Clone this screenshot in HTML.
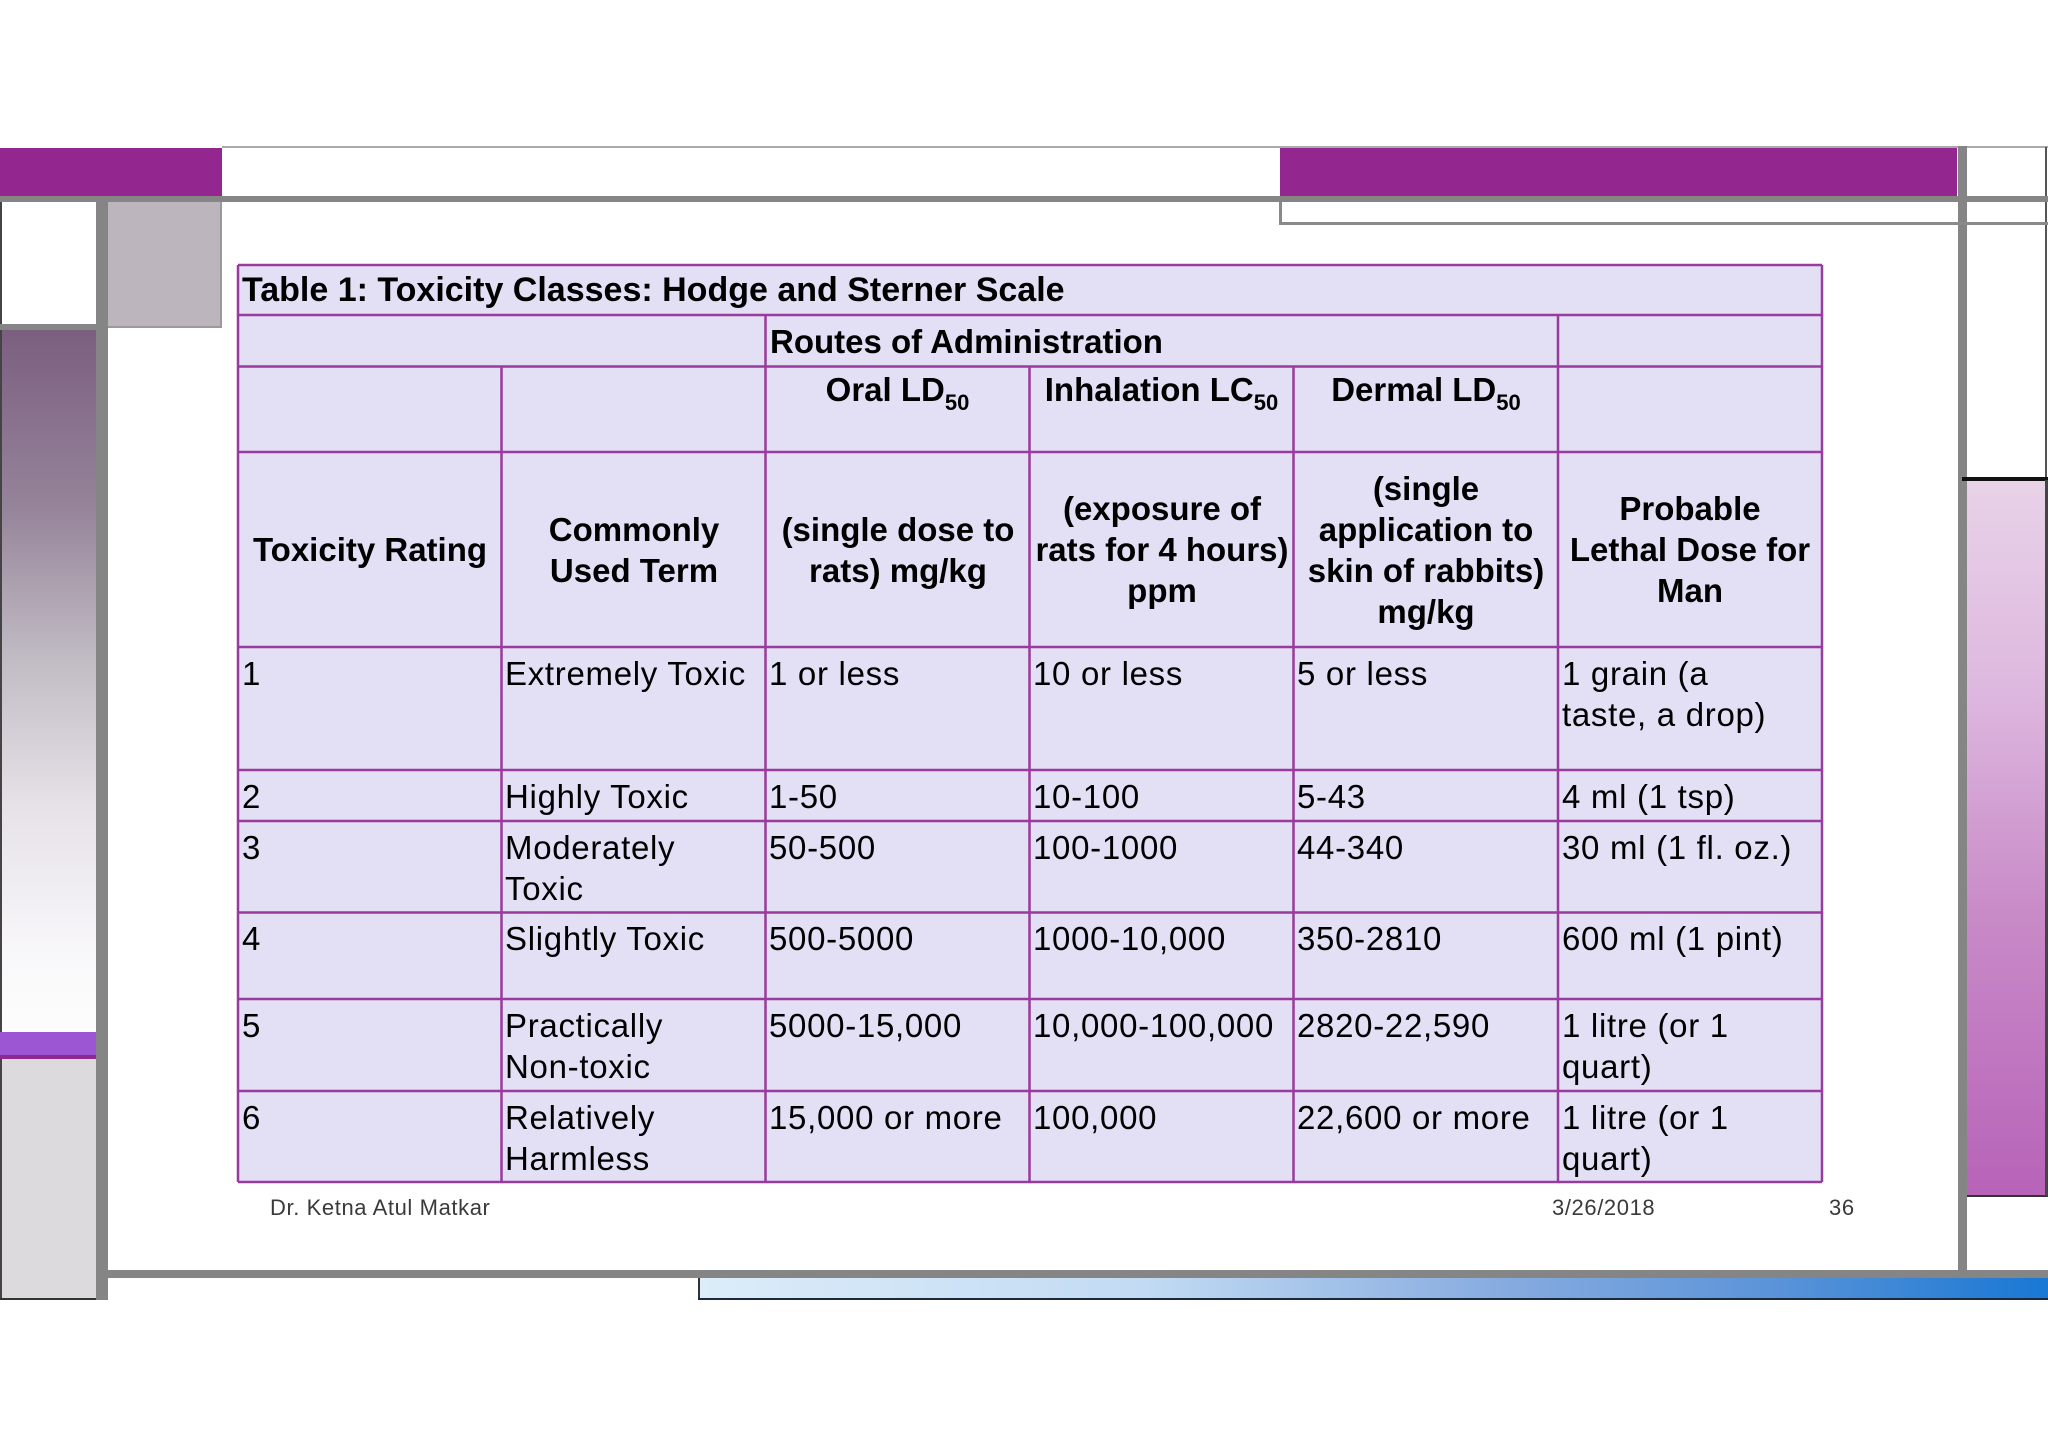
<!DOCTYPE html>
<html><head><meta charset="utf-8">
<style>
html,body{margin:0;padding:0;background:#fff;}
body{width:2048px;height:1448px;position:relative;overflow:hidden;font-family:"Liberation Sans",Arial,sans-serif;}
svg{position:absolute;left:0;top:0;}
.t{position:absolute;font-size:33px;line-height:41px;letter-spacing:.7px;white-space:nowrap;color:#000;}
.b{font-weight:bold;letter-spacing:0;}
.h{position:absolute;display:flex;align-items:center;justify-content:center;text-align:center;font-weight:bold;font-size:33px;line-height:41px;white-space:nowrap;color:#000;}
.s{font-size:22px;position:relative;top:9px;letter-spacing:0;}
.f{position:absolute;font-size:22px;line-height:24px;color:#3a3a3a;letter-spacing:.6px;white-space:nowrap;}
</style></head><body>
<svg width="2048" height="1448" viewBox="0 0 2048 1448" xmlns="http://www.w3.org/2000/svg">
<defs>
<linearGradient id="gl" x1="0" y1="0" x2="0" y2="1">
<stop offset="0" stop-color="#7b5f80"/>
<stop offset="0.25" stop-color="#958399"/>
<stop offset="0.47" stop-color="#c1bcc4"/>
<stop offset="0.68" stop-color="#e6e2e8"/>
<stop offset="0.9" stop-color="#f9f8fa"/>
<stop offset="1" stop-color="#fdfdfd"/>
</linearGradient>
<linearGradient id="gp" x1="0" y1="0" x2="0" y2="1">
<stop offset="0" stop-color="#e8d3e8"/>
<stop offset="0.3" stop-color="#ddb7de"/>
<stop offset="0.6" stop-color="#c98bc8"/>
<stop offset="1" stop-color="#b763b8"/>
</linearGradient>
<linearGradient id="gb" x1="0" y1="0" x2="1" y2="0">
<stop offset="0" stop-color="#dcecf9"/>
<stop offset="0.33" stop-color="#c2dbf3"/>
<stop offset="0.59" stop-color="#88ace0"/>
<stop offset="0.8" stop-color="#5a93d8"/>
<stop offset="1" stop-color="#1878d3"/>
</linearGradient>
</defs>
<rect x="222" y="146" width="1826" height="2" fill="#aaaaaa"/>
<rect x="0" y="148" width="222" height="48" fill="#93278f"/>
<rect x="1280" y="148" width="677" height="48" fill="#93278f"/>
<rect x="2045" y="147" width="2" height="333" fill="#555"/>
<rect x="0" y="196" width="2048" height="6" fill="#858585"/>
<rect x="0" y="202" width="2" height="1097" fill="#444"/>
<rect x="0" y="324" width="96" height="6" fill="#858585"/>
<rect x="2" y="330" width="94" height="702" fill="url(#gl)"/>
<rect x="0" y="1032" width="96" height="23" fill="#9d56d3"/>
<rect x="0" y="1055" width="102" height="4" fill="#8d2a8d"/>
<rect x="2" y="1059" width="94" height="240" fill="#dcdadc"/>
<rect x="0" y="1298" width="108" height="2" fill="#333"/>
<rect x="96" y="202" width="12" height="1098" fill="#858585"/>
<rect x="108" y="202" width="114" height="126" fill="#9c989c"/>
<rect x="108" y="202" width="112" height="124" fill="#bdb5bd"/>
<rect x="1958" y="146" width="9" height="1126" fill="#858585"/>
<rect x="1279" y="202" width="3" height="23" fill="#8a8a8a"/>
<rect x="1279" y="222" width="769" height="3" fill="#8a8a8a"/>
<rect x="1967" y="480" width="79" height="716" fill="url(#gp)"/>
<rect x="1962" y="477" width="86" height="4" fill="#111"/>
<rect x="1967" y="1195" width="81" height="2" fill="#333"/>
<rect x="2045" y="480" width="3" height="716" fill="#444"/>
<rect x="96" y="1270" width="1952" height="8" fill="#858585"/>
<rect x="699" y="1278" width="1349" height="21" fill="url(#gb)"/>
<rect x="698" y="1278" width="2" height="22" fill="#333"/>
<rect x="698" y="1298" width="1350" height="2" fill="#1b2a3a"/>
<rect x="238" y="265" width="1584" height="917" fill="#e3dff5"/>
<g stroke="#9a3a9c" stroke-width="2.5" fill="none">
<line x1="238" y1="265" x2="1822" y2="265"/>
<line x1="238" y1="315" x2="1822" y2="315"/>
<line x1="238" y1="366.5" x2="1822" y2="366.5"/>
<line x1="238" y1="452" x2="1822" y2="452"/>
<line x1="238" y1="647" x2="1822" y2="647"/>
<line x1="238" y1="770" x2="1822" y2="770"/>
<line x1="238" y1="821" x2="1822" y2="821"/>
<line x1="238" y1="912.5" x2="1822" y2="912.5"/>
<line x1="238" y1="999" x2="1822" y2="999"/>
<line x1="238" y1="1091" x2="1822" y2="1091"/>
<line x1="238" y1="1182" x2="1822" y2="1182"/>
<line x1="238" y1="265" x2="238" y2="1182"/>
<line x1="1822" y1="265" x2="1822" y2="1182"/>
<line x1="765.5" y1="315" x2="765.5" y2="1182"/>
<line x1="1558" y1="315" x2="1558" y2="1182"/>
<line x1="501.5" y1="366.5" x2="501.5" y2="1182"/>
<line x1="1029.5" y1="366.5" x2="1029.5" y2="1182"/>
<line x1="1293.5" y1="366.5" x2="1293.5" y2="1182"/>
</g>
</svg>

<div class="t b" style="left:242px;top:270px;font-size:34px;letter-spacing:0;">Table 1: Toxicity Classes: Hodge and Sterner Scale</div>
<div class="t b" style="left:770px;top:321px;">Routes of Administration</div>

<div class="h" style="left:767px;top:371px;width:261px;height:41px;"><span>Oral LD<span class="s">50</span></span></div>
<div class="h" style="left:1031px;top:371px;width:261px;height:41px;"><span>Inhalation LC<span class="s">50</span></span></div>
<div class="h" style="left:1295px;top:371px;width:262px;height:41px;"><span>Dermal LD<span class="s">50</span></span></div>

<div class="h" style="left:239px;top:453px;width:262px;height:193px;">Toxicity Rating</div>
<div class="h" style="left:503px;top:453px;width:262px;height:193px;">Commonly<br>Used Term</div>
<div class="h" style="left:767px;top:453px;width:262px;height:193px;">(single dose to<br>rats) mg/kg</div>
<div class="h" style="left:1031px;top:453px;width:262px;height:193px;">(exposure of<br>rats for 4 hours)<br>ppm</div>
<div class="h" style="left:1295px;top:453px;width:262px;height:193px;">(single<br>application to<br>skin of rabbits)<br>mg/kg</div>
<div class="h" style="left:1559px;top:453px;width:262px;height:193px;">Probable<br>Lethal Dose for<br>Man</div>

<div class="t" style="left:242px;top:653px;">1</div>
<div class="t" style="left:505px;top:653px;">Extremely Toxic</div>
<div class="t" style="left:769px;top:653px;">1 or less</div>
<div class="t" style="left:1033px;top:653px;">10 or less</div>
<div class="t" style="left:1297px;top:653px;">5 or less</div>
<div class="t" style="left:1562px;top:653px;">1 grain (a<br>taste, a drop)</div>
<div class="t" style="left:242px;top:776px;">2</div>
<div class="t" style="left:505px;top:776px;">Highly Toxic</div>
<div class="t" style="left:769px;top:776px;">1-50</div>
<div class="t" style="left:1033px;top:776px;">10-100</div>
<div class="t" style="left:1297px;top:776px;">5-43</div>
<div class="t" style="left:1562px;top:776px;">4 ml (1 tsp)</div>
<div class="t" style="left:242px;top:827px;">3</div>
<div class="t" style="left:505px;top:827px;">Moderately<br>Toxic</div>
<div class="t" style="left:769px;top:827px;">50-500</div>
<div class="t" style="left:1033px;top:827px;">100-1000</div>
<div class="t" style="left:1297px;top:827px;">44-340</div>
<div class="t" style="left:1562px;top:827px;">30 ml (1 fl. oz.)</div>
<div class="t" style="left:242px;top:918px;">4</div>
<div class="t" style="left:505px;top:918px;">Slightly Toxic</div>
<div class="t" style="left:769px;top:918px;">500-5000</div>
<div class="t" style="left:1033px;top:918px;">1000-10,000</div>
<div class="t" style="left:1297px;top:918px;">350-2810</div>
<div class="t" style="left:1562px;top:918px;">600 ml (1 pint)</div>
<div class="t" style="left:242px;top:1005px;">5</div>
<div class="t" style="left:505px;top:1005px;">Practically<br>Non-toxic</div>
<div class="t" style="left:769px;top:1005px;">5000-15,000</div>
<div class="t" style="left:1033px;top:1005px;">10,000-100,000</div>
<div class="t" style="left:1297px;top:1005px;">2820-22,590</div>
<div class="t" style="left:1562px;top:1005px;">1 litre (or 1<br>quart)</div>
<div class="t" style="left:242px;top:1097px;">6</div>
<div class="t" style="left:505px;top:1097px;">Relatively<br>Harmless</div>
<div class="t" style="left:769px;top:1097px;">15,000 or more</div>
<div class="t" style="left:1033px;top:1097px;">100,000</div>
<div class="t" style="left:1297px;top:1097px;">22,600 or more</div>
<div class="t" style="left:1562px;top:1097px;">1 litre (or 1<br>quart)</div>

<div class="f" style="left:270px;top:1196px;">Dr. Ketna Atul Matkar</div>
<div class="f" style="left:1552px;top:1196px;">3/26/2018</div>
<div class="f" style="left:1829px;top:1196px;">36</div>
</body></html>
